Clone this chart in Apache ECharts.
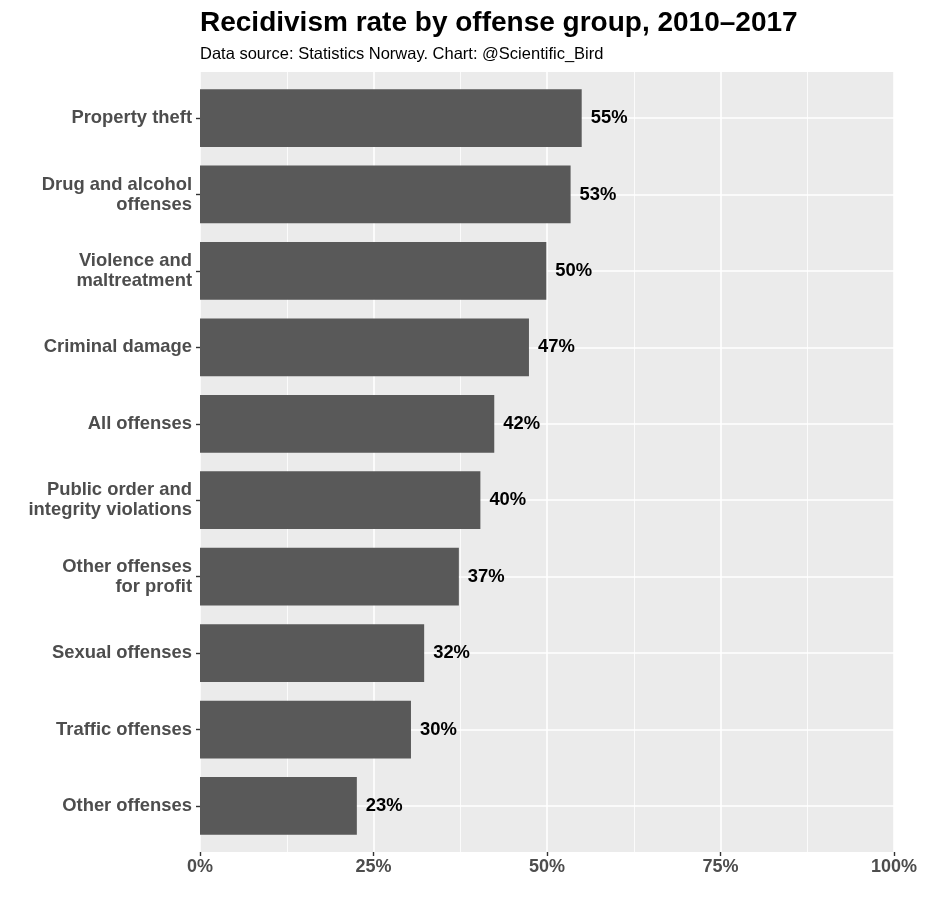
<!DOCTYPE html>
<html>
<head>
<meta charset="utf-8">
<script src="https://cdn.jsdelivr.net/npm/echarts@6/dist/echarts.min.js"></script>
<style>
  html, body { margin: 0; padding: 0; background: #fff; }
  #chart { width: 931px; height: 900px; }
</style>
</head>
<body>
<div id="chart"></div>
<script>
const offenseGroups = [
  'Property theft',
  'Drug and alcohol\noffenses',
  'Violence and\nmaltreatment',
  'Criminal damage',
  'All offenses',
  'Public order and\nintegrity violations',
  'Other offenses\nfor profit',
  'Sexual offenses',
  'Traffic offenses',
  'Other offenses'
];
const recidivismRate = [55.0, 53.4, 49.9, 47.4, 42.4, 40.4, 37.3, 32.3, 30.4, 22.6];
const rateTicks = [0, 25, 50, 75, 100];

const font = '"Liberation Sans", Arial, sans-serif';
const axisGrey = '#4D4D4D';

const chart = echarts.init(document.getElementById('chart'));

chart.setOption({
  animation: false,
  title: [
    {
      text: 'Recidivism rate by offense group, 2010\u20132017',
      left: 200, top: 9, padding: 0,
      textStyle: { fontFamily: font, fontSize: 28, fontWeight: 'bold', color: '#000' }
    },
    {
      text: 'Data source: Statistics Norway. Chart: @Scientific_Bird',
      left: 200, top: 46, padding: 0,
      textStyle: { fontFamily: font, fontSize: 16.5, fontWeight: 'normal', color: '#000' }
    }
  ],
  // grid 0 = the grey panel, grid 1 = the bars (ggplot pads 0.6 of a band)
  grid: [
    { left: 200, right: 37, top: 72, bottom: 48, show: true, backgroundColor: '#EBEBEB', borderWidth: 0 },
    { left: 200, right: 37, top: 79.8, bottom: 55.8 }
  ],
  xAxis: [
    {
      gridIndex: 0, type: 'value', min: rateTicks[0], max: rateTicks[rateTicks.length - 1], interval: 25,
      axisLine: { show: false },
      axisTick: { show: true, length: 4, lineStyle: { color: '#333333', width: 1.4 } },
      axisLabel: {
        margin: 6, fontFamily: font, fontSize: 18, fontWeight: 'bold', color: axisGrey,
        formatter: '{value}%'
      },
      splitLine: { show: true, lineStyle: { color: '#fff', width: 1.6 } },
      minorTick: { show: false, splitNumber: 2 },
      minorSplitLine: { show: true, lineStyle: { color: '#fff', width: 0.8 } }
    },
    {
      gridIndex: 1, type: 'value', min: 0, max: 100, show: false
    }
  ],
  yAxis: [
    { gridIndex: 0, type: 'value', show: false },
    {
      gridIndex: 1, type: 'category', inverse: true, data: offenseGroups,
      axisLine: { show: false },
      axisTick: { show: true, alignWithLabel: true, length: 4, lineStyle: { color: '#333333', width: 1.4 } },
      axisLabel: {
        margin: 8, fontFamily: font, fontSize: 18.4, fontWeight: 'bold', color: axisGrey,
        lineHeight: 20, align: 'right', padding: [4, 0, 0, 0]
      },
      splitLine: { show: false }
    }
  ],
  series: [
    {
      // carries the horizontal major grid lines under the bars
      type: 'line', xAxisIndex: 1, yAxisIndex: 1, z: 1, silent: true,
      data: recidivismRate, symbol: 'none', lineStyle: { opacity: 0 },
      markLine: {
        z: 1, silent: true, symbol: 'none', label: { show: false },
        lineStyle: { color: '#fff', width: 1.5, type: 'solid' },
        data: offenseGroups.map(g => ({ yAxis: g }))
      }
    },
    {
      type: 'bar', xAxisIndex: 1, yAxisIndex: 1, z: 3,
      data: recidivismRate,
      barCategoryGap: '24.5%',
      itemStyle: { color: '#595959' },
      label: {
        show: true, position: 'right', distance: 9, padding: [4, 0, 0, 0],
        fontFamily: font, fontSize: 18.4, fontWeight: 'bold', color: '#000',
        formatter: p => Math.round(p.value) + '%'
      }
    }
  ]
});
</script>
</body>
</html>
